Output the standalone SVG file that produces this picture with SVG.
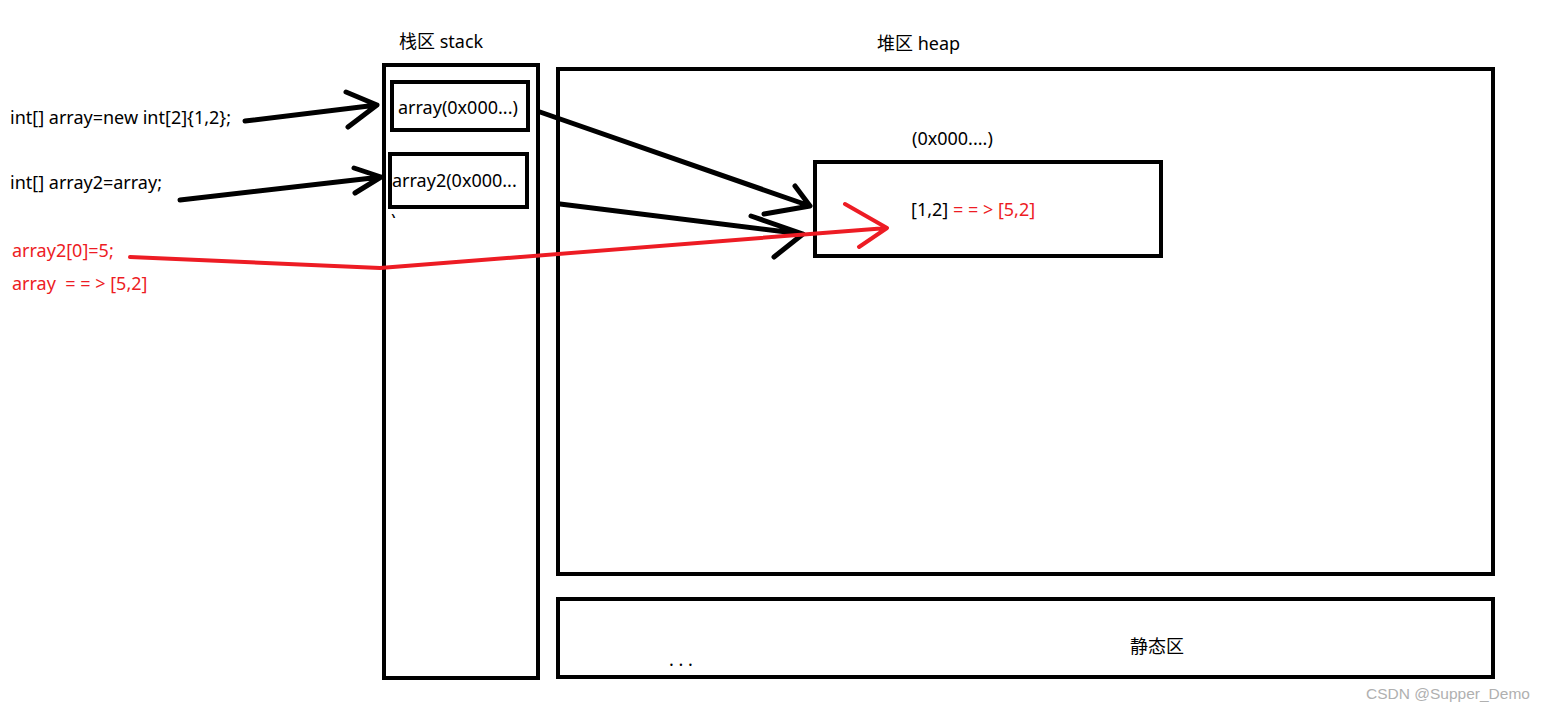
<svg xmlns="http://www.w3.org/2000/svg" width="1547" height="711" viewBox="0 0 1547 711">
<style>
.box{fill:none;stroke:#000;stroke-width:4}
.t{font-family:"Noto Sans","Noto Sans CJK SC",sans-serif;font-size:18px;fill:#000}
.r{fill:#ed1c24}
.ln{fill:none;stroke:#000;stroke-width:5;stroke-linecap:round;stroke-linejoin:round}
.rl{fill:none;stroke:#ed1c24;stroke-width:4;stroke-linecap:round;stroke-linejoin:round}
</style>
<defs>
<clipPath id="cp"><rect x="385" y="208" width="20" height="10"/></clipPath>
</defs>
<rect width="1547" height="711" fill="#fff"/>
<g id="stack">
<rect class="box" x="384" y="65" width="154" height="613"/>
<text class="t" x="399" y="48">栈区 stack</text>
</g>
<g id="array">
<rect class="box" x="392" y="82" width="136" height="48" stroke-width="5"/>
<text class="t" x="398" y="114">array(0x000...)</text>
</g>
<g id="array2">
<rect class="box" x="390" y="154" width="137" height="53" stroke-width="5"/>
<text class="t" x="392" y="187">array2(0x000...</text>
<text class="t" x="391" y="227" clip-path="url(#cp)">)</text>
</g>
<g id="heap">
<rect class="box" x="558" y="69" width="935" height="505"/>
<text class="t" x="877" y="50">堆区 heap</text>
</g>
<g id="object">
<rect class="box" x="815" y="162" width="346" height="94"/>
<text class="t" x="912" y="145">(0x000....)</text>
<text class="t" x="911" y="216">[1,2] <tspan class="r">= = &gt; [5,2]</tspan></text>
</g>
<g id="static">
<rect class="box" x="558" y="599" width="935" height="78"/>
<text class="t" x="1130" y="653">静态区</text>
<text class="t" x="669" y="666" font-size="10">. . .</text>
</g>
<g id="code">
<text class="t" x="10" y="124">int[] array=new int[2]{1,2};</text>
<text class="t" x="10" y="189">int[] array2=array;</text>
<text class="t r" x="12" y="257">array2[0]=5;</text>
<text class="t r" x="12" y="290" xml:space="preserve">array  = = &gt; [5,2]</text>
</g>
<g id="connectors">
<path class="ln" d="M245,121 L377,105 M346,92 L377,105 L348,127"/>
<path class="ln" d="M180,200 L381,177 M354,168 L381,177 L355,193"/>
<path class="ln" d="M540,112 L810,206 M795,186 L810,206 L764,214"/>
<path class="ln" d="M560,204 L803,234 M751,216 L803,234 L774,257"/>
<path class="rl" d="M130,257 L380,268 L887,228 M845,204 L887,228 L859,247"/>
</g>
<text x="1366" y="699" font-family="Liberation Sans Narrow, Liberation Sans, sans-serif" font-size="15.5" fill="#b0b0b0">CSDN @Supper_Demo</text>
</svg>
